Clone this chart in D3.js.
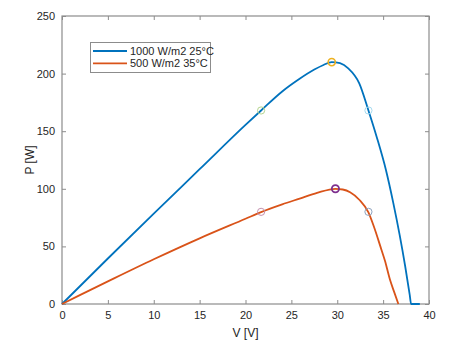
<!DOCTYPE html>
<html>
<head>
<meta charset="utf-8">
<script src="https://cdn.jsdelivr.net/npm/d3@7"></script>
<style>
  body { margin: 0; background: #fff; }
  svg { font-family: "Liberation Sans", Arial, sans-serif; }
</style>
</head>
<body>
<svg id="chart" width="474" height="344"></svg>
<script>
// P-V curves
const seriesNames = ["1000 W/m2 25°C", "500 W/m2 35°C"];
const seriesColors = ["#0072BD", "#D95319"];

const v1000 = [0, 5, 10, 15, 20, 21.7, 24, 25.9, 27.5, 28.5, 29.4, 30.3, 31.2, 32.4, 33.4, 34.3, 35.3, 36.1, 36.8, 37.4, 37.9, 38.05, 39];
const p1000 = [0, 39.5, 78.5, 117, 155.5, 168, 184.5, 195.5, 203.5, 207.5, 210, 209, 204.5, 191.5, 168, 145, 116.5, 88, 60, 33, 8, 0, 0];

const v500 = [0, 2, 5, 10, 15, 20, 21.7, 24, 25.9, 27.8, 29.8, 30.6, 31.4, 32.4, 33.4, 34.0, 34.7, 35.2, 35.75, 36.2, 36.66];
const p500 = [0, 7.9, 19.6, 38.8, 57, 74, 79.8, 86.5, 91.5, 96.5, 100, 99.4, 97, 90.5, 79.5, 67, 50, 37.5, 21, 10.5, 0];

// circle markers
const markV = [21.7, 29.4, 33.4, 21.7, 29.8, 33.4];
const markP = [168, 210, 168, 80, 100, 80];
const markColor = ["#b5d58f", "#EDB120", "#a6dbf0", "#c490ae", "#7E2F8E", "#8ea3bf"];
const markWidth = [1, 1.6, 1, 1, 1.8, 1];

const xTicks = [0, 5, 10, 15, 20, 25, 30, 35, 40];
const yTicks = [0, 50, 100, 150, 200, 250];

const svg = d3.select("#chart");
const pLeft = 62, pRight = 429, pTop = 16, pBottom = 304;

let xScale = d3.scaleLinear().domain([0, 40]).range([pLeft, pRight]);
let yScale = d3.scaleLinear().domain([0, 250]).range([pBottom, pTop]);

const axisColor = "#8c8c8c";
const textColor = "#262626";

// box
svg.append("rect")
    .attr("x", pLeft).attr("y", pTop)
    .attr("width", pRight - pLeft).attr("height", pBottom - pTop)
    .attr("fill", "none").attr("stroke", axisColor).attr("stroke-width", 1.2);

// axes (ticks inward, mirrored on top/right)
function styleAxis(g) {
    g.select(".domain").remove();
    g.selectAll(".tick line").attr("stroke", axisColor);
    g.selectAll(".tick text").attr("fill", textColor).attr("font-size", 11);
}
svg.append("g").attr("transform", `translate(0,${pBottom})`)
    .call(d3.axisBottom(xScale).tickValues(xTicks).tickSizeInner(-4).tickPadding(7))
    .call(styleAxis);
svg.append("g").attr("transform", `translate(0,${pTop})`)
    .call(d3.axisTop(xScale).tickValues(xTicks).tickSizeInner(-4).tickFormat(""))
    .call(styleAxis);
svg.append("g").attr("transform", `translate(${pLeft},0)`)
    .call(d3.axisLeft(yScale).tickValues(yTicks).tickSizeInner(-4).tickPadding(7))
    .call(styleAxis);
svg.append("g").attr("transform", `translate(${pRight},0)`)
    .call(d3.axisRight(yScale).tickValues(yTicks).tickSizeInner(-4).tickFormat(""))
    .call(styleAxis);

// axis labels
svg.append("text").attr("x", (pLeft + pRight) / 2).attr("y", 337)
    .attr("text-anchor", "middle").attr("font-size", 12).attr("fill", textColor)
    .text("V [V]");
svg.append("text").attr("transform", `translate(34,${(pTop + pBottom) / 2}) rotate(-90)`)
    .attr("text-anchor", "middle").attr("font-size", 12).attr("fill", textColor)
    .text("P [W]");

// curves (monotone so the corner at Voc does not overshoot)
const line = d3.line()
    .x(d => xScale(d[0]))
    .y(d => yScale(d[1]))
    .curve(d3.curveMonotoneX);

const series = [d3.zip(v1000, p1000), d3.zip(v500, p500)];
svg.selectAll(".curve")
    .data(series)
    .enter()
    .append("path")
    .attr("class", "curve")
    .attr("d", line)
    .attr("fill", "none")
    .attr("stroke", (d, i) => seriesColors[i])
    .attr("stroke-width", 1.8);

// markers
svg.selectAll(".mark")
    .data(markV)
    .enter()
    .append("circle")
    .attr("class", "mark")
    .attr("cx", d => xScale(d))
    .attr("cy", (d, i) => yScale(markP[i]))
    .attr("r", 3.6)
    .attr("fill", "none")
    .attr("stroke", (d, i) => markColor[i])
    .attr("stroke-width", (d, i) => markWidth[i]);

// legend
const legend = svg.append("g");
legend.append("rect")
    .attr("x", 90.5).attr("y", 42.5).attr("width", 120).attr("height", 30)
    .attr("fill", "#fff").attr("stroke", axisColor).attr("stroke-width", 1);
seriesNames.forEach((name, i) => {
    const y = 51 + i * 12.3;
    legend.append("line")
        .attr("x1", 93).attr("x2", 127).attr("y1", y).attr("y2", y)
        .attr("stroke", seriesColors[i]).attr("stroke-width", 1.8);
    legend.append("text")
        .attr("x", 130).attr("y", y + 4)
        .attr("font-size", 11).attr("fill", textColor)
        .text(name);
});
</script>
</body>
</html>
